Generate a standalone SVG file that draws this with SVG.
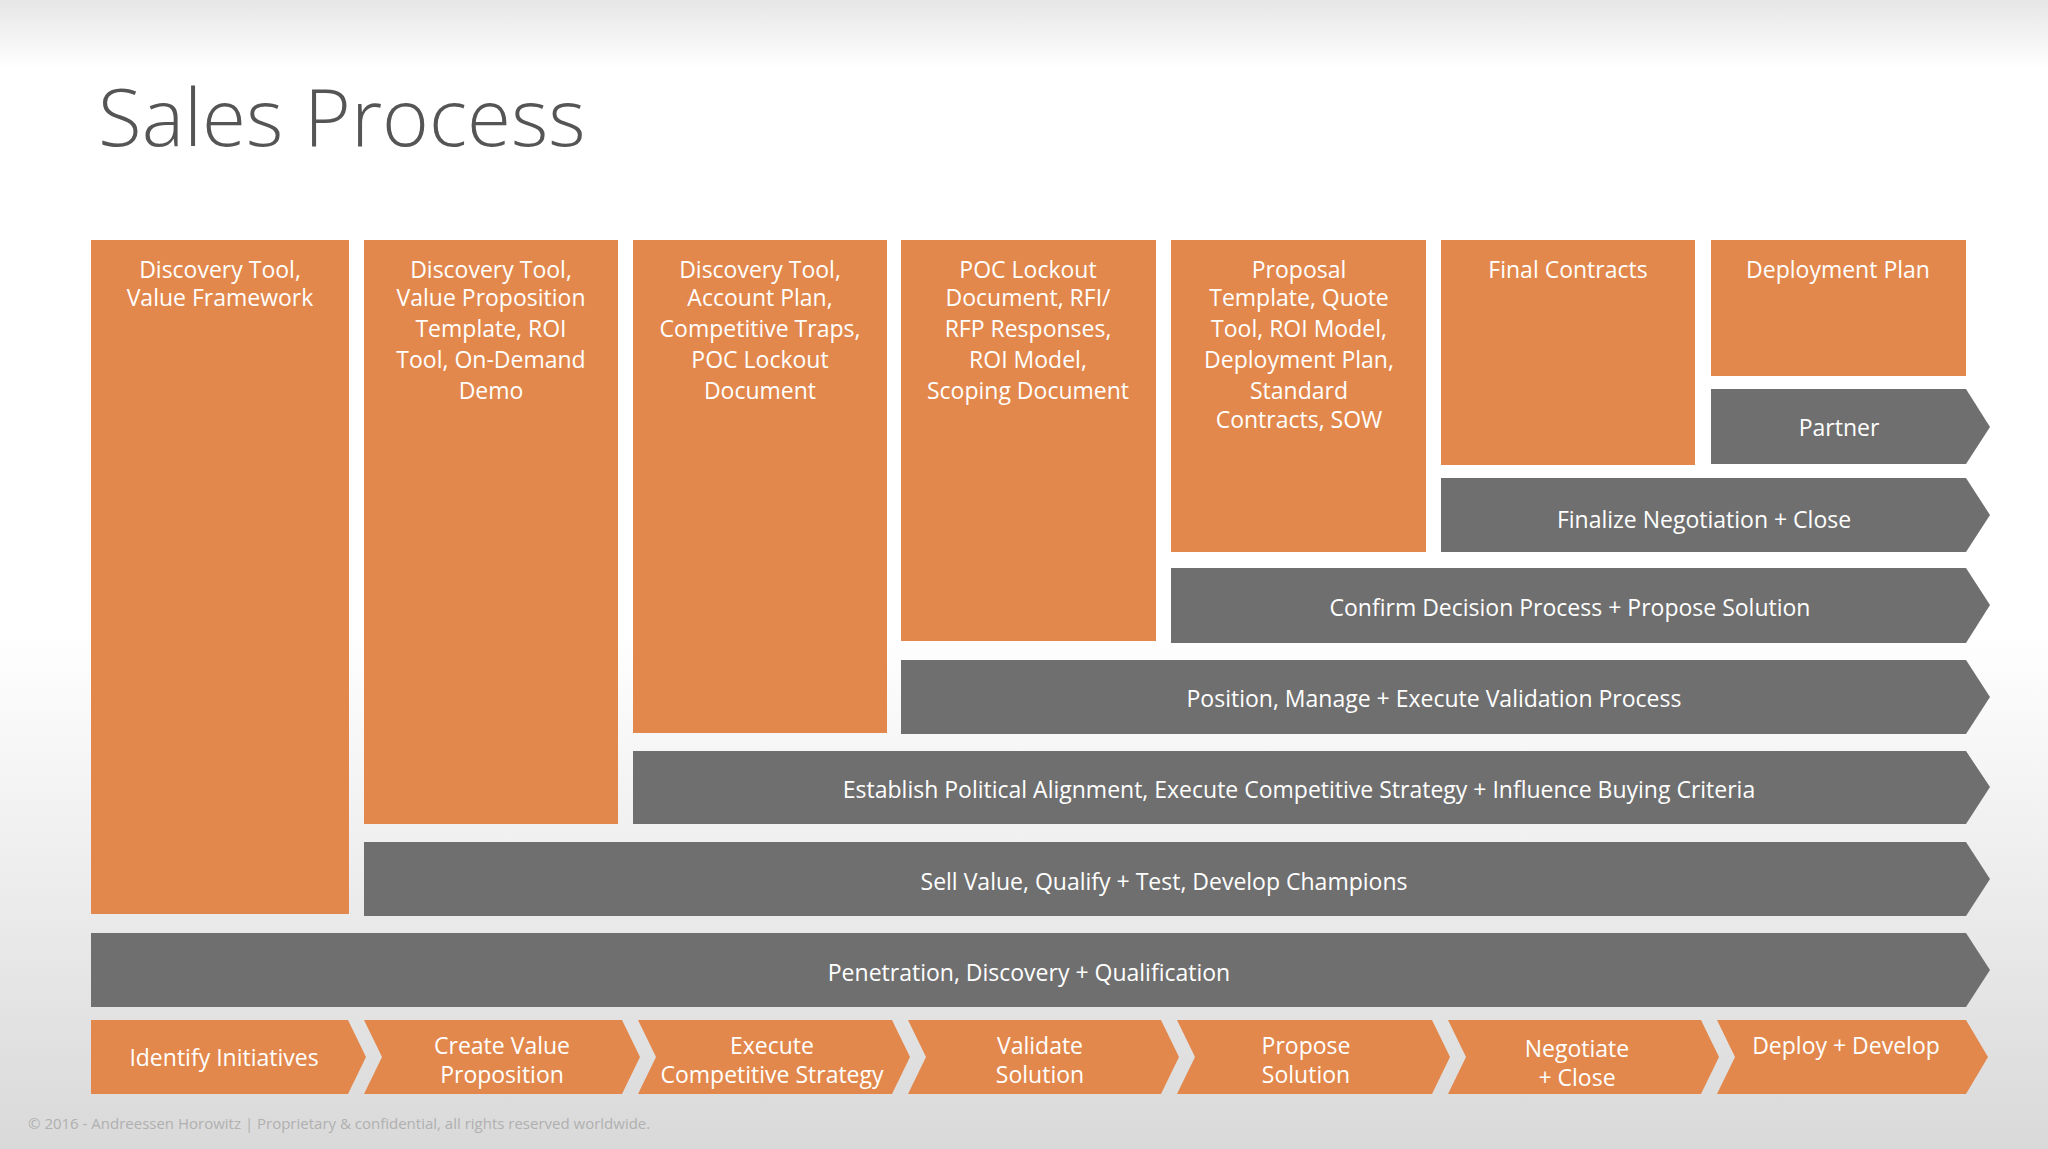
<svg xmlns="http://www.w3.org/2000/svg" width="2048" height="1149" viewBox="0 0 2048 1149">
<defs>
<linearGradient id="bg" x1="0" y1="0" x2="0" y2="1">
<stop offset="0" stop-color="#e6e6e6"/><stop offset="0.06" stop-color="#ffffff"/><stop offset="0.55" stop-color="#ffffff"/><stop offset="1" stop-color="#d9d9d9"/>
</linearGradient>
<style>
.o{fill:#E3884C}
.g{fill:#6F6F6F}
text{font-family:"Open Sans","Liberation Sans",sans-serif;font-size:23px;fill:#ffffff;text-anchor:middle}
.oc{fill:#E3884C}
</style>
</defs>
<rect width="2048" height="1149" fill="url(#bg)"/>
<text x="98" y="146" style="font-size:80px;fill:#555;text-anchor:start;font-weight:300">Sales Process</text>
<g id="col1"><rect class="o" x="91" y="240" width="258" height="674"/><text x="220" y="278">Discovery Tool,</text><text x="220" y="306">Value Framework</text></g>
<g id="col2"><rect class="o" x="364" y="240" width="254" height="584"/><text x="491" y="278">Discovery Tool,</text><text x="491" y="306">Value Proposition</text><text x="491" y="337">Template, ROI</text><text x="491" y="368">Tool, On-Demand</text><text x="491" y="399">Demo</text></g>
<g id="col3"><rect class="o" x="633" y="240" width="254" height="493"/><text x="760" y="278">Discovery Tool,</text><text x="760" y="306">Account Plan,</text><text x="760" y="337">Competitive Traps,</text><text x="760" y="368">POC Lockout</text><text x="760" y="399">Document</text></g>
<g id="col4"><rect class="o" x="901" y="240" width="255" height="401"/><text x="1028" y="278">POC Lockout</text><text x="1028" y="306">Document, RFI/</text><text x="1028" y="337">RFP Responses,</text><text x="1028" y="368">ROI Model,</text><text x="1028" y="399">Scoping Document</text></g>
<g id="col5"><rect class="o" x="1171" y="240" width="255" height="312"/><text x="1299" y="278">Proposal</text><text x="1299" y="306">Template, Quote</text><text x="1299" y="337">Tool, ROI Model,</text><text x="1299" y="368">Deployment Plan,</text><text x="1299" y="399">Standard</text><text x="1299" y="428">Contracts, SOW</text></g>
<g id="col6"><rect class="o" x="1441" y="240" width="254" height="225"/><text x="1568" y="278">Final Contracts</text></g>
<g id="col7"><rect class="o" x="1711" y="240" width="255" height="136"/><text x="1838" y="278">Deployment Plan</text></g>
<g id="bars">
<g id="partner"><polygon class="g" points="1711,389 1966,389 1990,427 1966,464 1711,464"/><text x="1839" y="436">Partner</text></g>
<g id="finalize"><polygon class="g" points="1441,478 1966,478 1990,515 1966,552 1441,552"/><text x="1704" y="528">Finalize Negotiation + Close</text></g>
<g id="confirm"><polygon class="g" points="1171,568 1966,568 1990,605 1966,643 1171,643"/><text x="1570" y="616">Confirm Decision Process + Propose Solution</text></g>
<g id="position"><polygon class="g" points="901,660 1966,660 1990,697 1966,734 901,734"/><text x="1434" y="707">Position, Manage + Execute Validation Process</text></g>
<g id="establish"><polygon class="g" points="633,751 1966,751 1990,787 1966,824 633,824"/><text x="1299" y="798">Establish Political Alignment, Execute Competitive Strategy + Influence Buying Criteria</text></g>
<g id="sell"><polygon class="g" points="364,842 1966,842 1990,879 1966,916 364,916"/><text x="1164" y="890">Sell Value, Qualify + Test, Develop Champions</text></g>
<g id="pen"><polygon class="g" points="91,933 1966,933 1990,970 1966,1007 91,1007"/><text x="1029" y="981">Penetration, Discovery + Qualification</text></g>
</g>
<g id="stages" style="fill:#E3884C">
<polygon points="91,1020 348,1020 366,1057 348,1094 91,1094"/>
<polygon points="364,1020 622,1020 640,1057 622,1094 364,1094 382,1057"/>
<polygon points="638,1020 892,1020 910,1057 892,1094 638,1094 656,1057"/>
<polygon points="908,1020 1161,1020 1179,1057 1161,1094 908,1094 926,1057"/>
<polygon points="1177,1020 1432,1020 1450,1057 1432,1094 1177,1094 1195,1057"/>
<polygon points="1448,1020 1701,1020 1719,1057 1701,1094 1448,1094 1466,1057"/>
<polygon points="1717,1020 1966,1020 1988,1057 1966,1094 1717,1094 1735,1057"/>
<text x="224" y="1066">Identify Initiatives</text>
<text x="502" y="1054">Create Value</text><text x="502" y="1083">Proposition</text>
<text x="772" y="1054">Execute</text><text x="772" y="1083">Competitive Strategy</text>
<text x="1040" y="1054">Validate</text><text x="1040" y="1083">Solution</text>
<text x="1306" y="1054">Propose</text><text x="1306" y="1083">Solution</text>
<text x="1577" y="1057">Negotiate</text><text x="1577" y="1086">+ Close</text>
<text x="1846" y="1054">Deploy + Develop</text>
</g>
<text x="28" y="1129" style="font-size:15px;fill:#b0b0b0;text-anchor:start">© 2016 - Andreessen Horowitz | Proprietary &amp; confidential, all rights reserved worldwide.</text>
</svg>
